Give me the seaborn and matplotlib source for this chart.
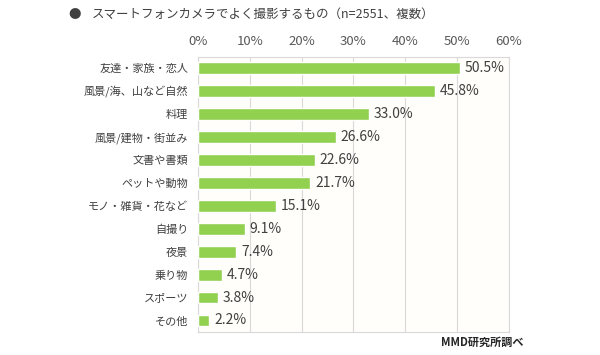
import matplotlib
matplotlib.use("Agg")
import matplotlib.pyplot as plt
import pandas as pd
import seaborn as sns

# Data
categories = ["友達・家族・恋人", "風景/海、山など自然", "料理", "風景/建物・街並み",
              "文書や書類", "ペットや動物", "モノ・雑貨・花など", "自撮り",
              "夜景", "乗り物", "スポーツ", "その他"]
values = [50.5, 45.8, 33.0, 26.6, 22.6, 21.7, 15.1, 9.1, 7.4, 4.7, 3.8, 2.2]
xticks = [0, 10, 20, 30, 40, 50, 60]

df = pd.DataFrame({"category": categories, "value": values})

sns.set_theme(style="white")
plt.rcParams["font.family"] = ["Noto Sans CJK JP", "DejaVu Sans"]

fig = plt.figure(figsize=(6, 3.55), dpi=100)
ax = fig.add_axes([0.330, 0.065, 0.518, 0.775])
ax.set_facecolor("#fffefa")

sns.barplot(data=df, x="value", y="category", color="#92d050",
            saturation=1, width=0.52, ax=ax, zorder=3)

ax.set_xlim(0, 60)
ax.set_xticks(xticks)
ax.set_xticklabels([f"{t}%" for t in xticks], color="#595959", fontsize=9.5)
ax.xaxis.tick_top()
ax.tick_params(axis="x", length=0, pad=6)
ax.tick_params(axis="y", length=0, pad=7, labelsize=8, labelcolor="#404040")
ax.grid(axis="x", color="#d9d9d9", linewidth=0.8, zorder=0)
ax.set_xlabel("")
ax.set_ylabel("")
for s in ax.spines.values():
    s.set_color("#d9d9d9")
    s.set_linewidth(0.8)

for i, v in enumerate(values):
    ax.text(v + 0.9, i, f"{v:.1f}%", va="center", ha="left",
            fontsize=10, color="#404040", zorder=4)

fig.text(0.125, 0.96, "●", fontsize=9, color="#404040", va="center", ha="center")
fig.text(0.153, 0.96, "スマートフォンカメラでよく撮影するもの（n=2551、複数）",
         fontsize=9, color="#404040", va="center")
fig.text(0.872, 0.037, "MMD研究所調べ", fontsize=8, fontweight="bold",
         color="#262626", ha="right", va="center")

fig.savefig("out.png", dpi=100)
